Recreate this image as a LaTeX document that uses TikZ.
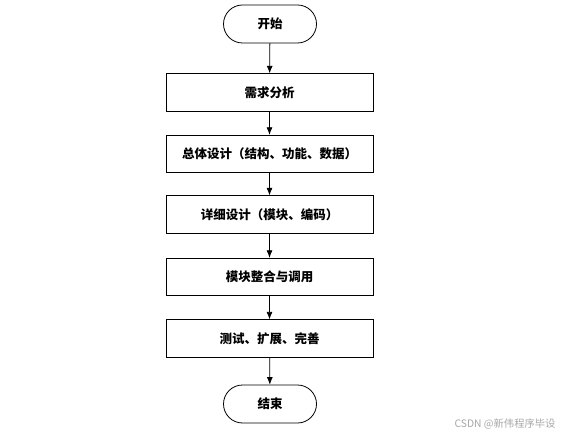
\documentclass[tikz,border=0pt]{standalone}
\usepackage{fontspec}
\newfontfamily\cjk{Noto Sans CJK SC}
\usepackage{tikz}
\usetikzlibrary{positioning,arrows.meta}

\tikzset{
  stepbox/.style={draw, line width=0.8pt, minimum width=207pt, minimum height=37.5pt,
                  font=\cjk\bfseries\fontsize{12.5}{14}\selectfont},
  termbox/.style={stepbox, minimum width=93pt, minimum height=38pt, rounded corners=19pt},
  flow/.style={line width=0.8pt, -{Latex[length=7.5pt,width=6pt]}}
}

\begin{document}
\begin{tikzpicture}[x=1pt, y=-1pt]
      \useasboundingbox (0, 0) rectangle (564, 435);
      \node (start) [termbox] at (270, 24) {开始};
      \node (need) [stepbox] at (269.5, 92.5) {需求分析};
      \node (overall) [stepbox] at (269.5, 154) {总体设计（结构、功能、数据）};
      \node (detail) [stepbox] at (269.5, 214.5) {详细设计（模块、编码）};
      \node (merge) [stepbox] at (269.5, 277) {模块整合与调用};
      \node (test) [stepbox] at (269.5, 338.5) {测试、扩展、完善};
      \node (stop) [termbox] at (270, 404) {结束};
      \draw[flow] (start) -- (need);
      \draw[flow] (need) -- (overall);
      \draw[flow] (overall) -- (detail);
      \draw[flow] (detail) -- (merge);
      \draw[flow] (merge) -- (test);
      \draw[flow] (test) -- (stop);
      \node (mark) [anchor=east, text=black!35, font=\cjk\fontsize{10.3}{12}\selectfont] at (559, 424) {CSDN @新伟程序毕设};
\end{tikzpicture}
\end{document}
